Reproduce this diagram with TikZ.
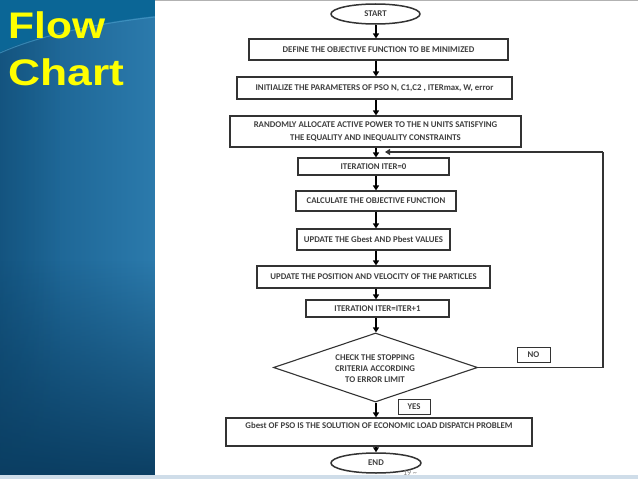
\documentclass[tikz,border=0pt]{standalone}
\usepackage{fontspec}
\usepackage{graphicx}
\setmainfont{Carlito}
\newfontfamily\titlefont{Liberation Sans}
\usetikzlibrary{arrows.meta,shapes.geometric,fadings}
\definecolor{boxline}{HTML}{333333}
\definecolor{txt}{HTML}{404040}
\definecolor{panelL}{HTML}{175C8A}
\definecolor{panelR}{HTML}{2B7AAC}
\definecolor{paneldark}{HTML}{0B3E62}
\definecolor{paneltop}{HTML}{0B6696}
\definecolor{swoosh}{HTML}{4AA3CF}
\definecolor{titleyellow}{HTML}{FFFF00}
\definecolor{strip}{HTML}{CFDDE9}
\begin{document}
\begin{tikzpicture}[x=1pt,y=-1pt,
  box/.style={draw=boxline, line width=1.1pt, fill=white, inner sep=0pt,
    font=\fontsize{8.8}{13.5}\selectfont\bfseries, text=txt, align=center},
  oval/.style={ellipse, draw=boxline, line width=1.5pt, fill=white, inner sep=0pt,
    minimum width=89pt, minimum height=20pt, font=\fontsize{8.8}{10}\selectfont\bfseries, text=txt},
  arr/.style={-{Triangle[length=5pt,width=6pt]}, line width=1.4pt, black},
  fbline/.style={line width=1.4pt, boxline},
  titletext/.style={anchor=base west, inner sep=0pt, text=titleyellow,
    font=\titlefont\fontsize{37}{40}\selectfont\bfseries}
]
\useasboundingbox (0,0) rectangle (638,479);
% left panel
\shade[left color=panelL, right color=panelR] (0,0) rectangle (155,479);
\fill[paneldark, path fading=north] (0,260) rectangle (155,479);
\fill[paneldark, opacity=0.25, path fading=east] (0,0) rectangle (60,479);
\fill[paneltop] (0,0) -- (155,0) -- (155,16) .. controls (100,22) and (40,34) .. (0,52) -- cycle;
\draw[swoosh, opacity=0.6, line width=1pt] (155,17) .. controls (100,23) and (40,35) .. (0,53);
% white area
\fill[white] (155,0) rectangle (638,475);
\draw[gray!60, line width=0.8pt] (155,0.4) -- (638,0.4);
\fill[strip] (0,475) rectangle (638,479);
% title
\node[titletext] (t1) at (8,38) {\scalebox{1.15}[1]{Flow}};
\node[titletext] (t2) at (8,85) {\scalebox{1.2}[1]{Chart}};
% spine
\coordinate (spine) at (376,0);
% nodes
\node[oval] (start) at (375.5,14) {START};
\node[box, minimum width=259pt, minimum height=21pt] (b1) at (378.5,49.5) {DEFINE THE OBJECTIVE FUNCTION TO BE MINIMIZED};
\node[box, minimum width=275pt, minimum height=22pt] (b2) at (374.5,88) {INITIALIZE THE PARAMETERS OF PSO N, C1,C2 , ITERmax, W, error};
\node[box, minimum width=291pt, minimum height=31pt] (b3) at (375.5,131.5) {RANDOMLY ALLOCATE ACTIVE POWER TO THE N UNITS SATISFYING\\THE EQUALITY AND INEQUALITY CONSTRAINTS};
\node[box, minimum width=151pt, minimum height=17pt] (b4) at (373.5,166.5) {ITERATION ITER=0};
\node[box, minimum width=160pt, minimum height=20pt] (b5) at (376,201) {CALCULATE THE OBJECTIVE FUNCTION};
\node[box, minimum width=153pt, minimum height=21pt] (b6) at (373.5,239.5) {UPDATE THE Gbest AND Pbest VALUES};
\node[box, minimum width=233pt, minimum height=22pt] (b7) at (373.5,277) {UPDATE THE POSITION AND VELOCITY OF THE PARTICLES};
\node[box, minimum width=143pt, minimum height=17pt] (b8) at (377.5,308.5) {ITERATION ITER=ITER+1};
\node[diamond, draw=boxline, line width=1.1pt, fill=white, inner sep=0pt,
  minimum width=204pt, minimum height=69pt] (dia) at (375.5,367.5) {};
\node[font=\fontsize{8.8}{11}\selectfont\bfseries, text=txt, align=center, inner sep=0pt] (diat) at (375,369) {CHECK THE STOPPING\\CRITERIA ACCORDING\\TO ERROR LIMIT};
\node[box, line width=0.9pt, minimum width=33pt, minimum height=15pt] (no) at (533.5,354.5) {NO};
\node[box, line width=0.9pt, minimum width=32pt, minimum height=15pt] (yes) at (414,406.5) {YES};
\node[box, minimum width=306pt, text height=10pt, text depth=18pt] (b9) at (379,432) {Gbest OF PSO IS THE SOLUTION OF ECONOMIC LOAD DISPATCH PROBLEM};
\node[oval, minimum width=90pt] (end) at (376,463) {END};
\node[font=\fontsize{8}{9}\selectfont, text=gray, inner sep=0pt] (pg) at (410,473) {19 \textasciitilde};
% connectors
\draw[arr] (start.south -| spine) -- (b1.north -| spine);
\draw[arr] (b1.south -| spine) -- (b2.north -| spine);
\draw[arr] (b2.south -| spine) -- (b3.north -| spine);
\draw[arr] (b3.south -| spine) -- (b4.north -| spine);
\draw[arr] (b4.south -| spine) -- (b5.north -| spine);
\draw[arr] (b5.south -| spine) -- (b6.north -| spine);
\draw[arr] (b6.south -| spine) -- (b7.north -| spine);
\draw[arr] (b7.south -| spine) -- (b8.north -| spine);
\draw[arr] (b8.south -| spine) -- (dia.north -| spine);
\draw[arr] (dia.south -| spine) -- (b9.north -| spine);
\draw[arr] (b9.south -| spine) -- (end.north -| spine);
% feedback
\coordinate (fbR) at (603,152);
\coordinate (fbEnd) at (385,152);
\draw[fbline] (dia.east) -- (dia.east -| fbR) -- (fbR);
\draw[arr, boxline] (fbR) -- (fbEnd);
\end{tikzpicture}
\end{document}
